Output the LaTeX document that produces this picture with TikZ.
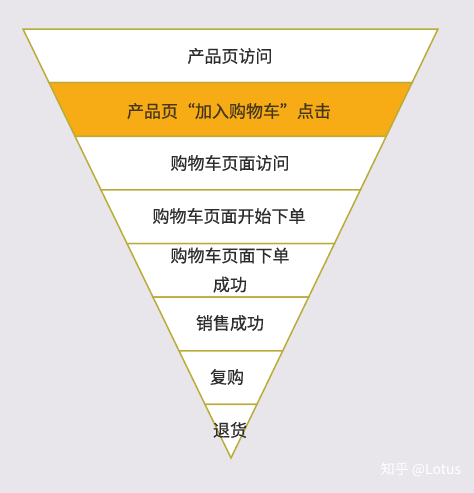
\documentclass[tikz,border=0pt]{standalone}
\usepackage{fontspec}
\usepackage{tikz}
\usetikzlibrary{calc}
\newfontfamily\cjk[FakeBold=0.5]{Noto Sans CJK SC}
\newfontfamily\cjkthin{Noto Sans CJK SC}
\definecolor{bgcol}{RGB}{233,230,235}
\definecolor{rimcol}{RGB}{186,172,58}
\definecolor{hotcol}{RGB}{247,172,22}
\definecolor{inkcol}{RGB}{45,45,45}

\begin{document}
\begin{tikzpicture}[x=1pt,y=-1pt,
		band/.style={draw=rimcol,line width=1.5pt,line join=miter,fill=white},
		label/.style={font=\cjk\fontsize{17}{29}\selectfont,text=inkcol,align=center,inner sep=0pt}]
				\fill[bgcol] (0,0) rectangle (474,493);
				\useasboundingbox (0,0) rectangle (474,493);
				\coordinate (tl) at (23,29);
				\coordinate (tr) at (438,29);
				\coordinate (tip) at (231,458);
				% funnel bands, top to bottom
				\draw[band] ($(tl)!0/8!(tip)$) -- ($(tr)!0/8!(tip)$) -- ($(tr)!1/8!(tip)$) -- ($(tl)!1/8!(tip)$) -- cycle;
				\draw[band,fill=hotcol] ($(tl)!1/8!(tip)$) -- ($(tr)!1/8!(tip)$) -- ($(tr)!2/8!(tip)$) -- ($(tl)!2/8!(tip)$) -- cycle;
				\draw[band] ($(tl)!2/8!(tip)$) -- ($(tr)!2/8!(tip)$) -- ($(tr)!3/8!(tip)$) -- ($(tl)!3/8!(tip)$) -- cycle;
				\draw[band] ($(tl)!3/8!(tip)$) -- ($(tr)!3/8!(tip)$) -- ($(tr)!4/8!(tip)$) -- ($(tl)!4/8!(tip)$) -- cycle;
				\draw[band] ($(tl)!4/8!(tip)$) -- ($(tr)!4/8!(tip)$) -- ($(tr)!5/8!(tip)$) -- ($(tl)!5/8!(tip)$) -- cycle;
				\draw[band] ($(tl)!5/8!(tip)$) -- ($(tr)!5/8!(tip)$) -- ($(tr)!6/8!(tip)$) -- ($(tl)!6/8!(tip)$) -- cycle;
				\draw[band] ($(tl)!6/8!(tip)$) -- ($(tr)!6/8!(tip)$) -- ($(tr)!7/8!(tip)$) -- ($(tl)!7/8!(tip)$) -- cycle;
				\draw[band] ($(tl)!7/8!(tip)$) -- ($(tr)!7/8!(tip)$) -- (tip) -- cycle;
				% stage names
				\node[label] (visit) at (230,56) {产品页访问};
				\node[label,text={rgb,255:red,70;green,55;blue,28}] (addcart) at (229,111) {产品页“加入购物车”点击};
				\node[label] (cartview) at (230,163) {购物车页面访问};
				\node[label] (checkout) at (229,216) {购物车页面开始下单};
				\node[label] (ordered) at (230,270) {购物车页面下单\\成功};
				\node[label] (sold) at (230,323) {销售成功};
				\node[label] (rebuy) at (227,377) {复购};
				\node[label] (refund) at (230,430) {退货};
				\node[font=\cjkthin\fontsize{14}{14}\selectfont,text=white,inner sep=0pt] (mark) at (421,470) {知乎 @Lotus};
			\end{tikzpicture}
\end{document}
